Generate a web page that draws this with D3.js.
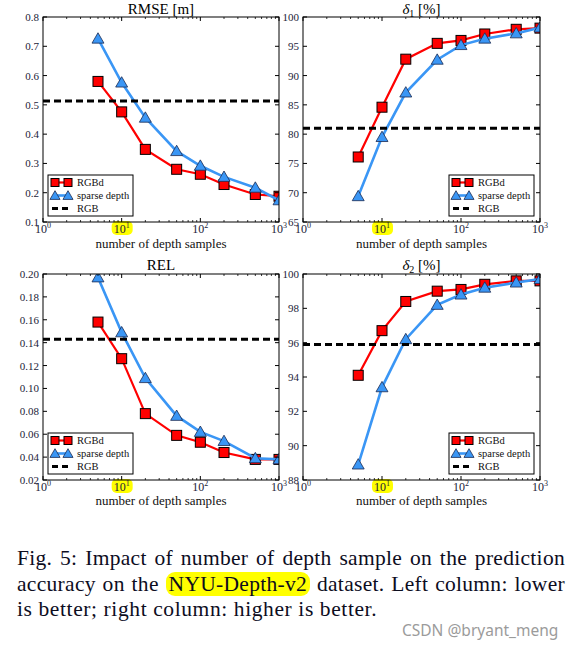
<!DOCTYPE html>
<html lang="en">
<head>
<meta charset="UTF-8">
<title>Impact of number of depth samples - NYU-Depth-v2</title>
<style>
  body { margin: 0; background: #fff; width: 574px; height: 645px; position: relative; overflow: hidden; }
  svg { position: absolute; left: 0; top: 0; }
  .ytick, .xtick { font-family: "Liberation Serif", serif; fill: #1c1c38; }
  .ytick { font-size: 11px; }
  .xtick { font-size: 12px; }
  .title { font-family: "Liberation Serif", serif; font-size: 15px; fill: #000; }
  .xlabel { font-family: "Liberation Serif", serif; font-size: 13px; fill: #111; }
  .legend-text { font-family: "Liberation Serif", serif; font-size: 10.5px; fill: #111; }
  #caption {
    position: absolute; left: 17px; top: 546px; width: 548px;
    font-family: "Liberation Serif", serif; font-size: 21.5px; letter-spacing: 0.3px;
    color: #0d0d1e;
  }
  #caption div { height: 25.7px; line-height: 25.7px; white-space: nowrap; }
  #caption .just { text-align: justify; text-align-last: justify; }
  #caption .last { letter-spacing: 0.6px; }
  .hl { background: #ffff00; border-radius: 9px; padding: 0 3px; }
  #mark {
    position: absolute; left: 402px; top: 619px;
    font-family: "Noto Sans", sans-serif; font-size: 15.5px; color: #9b9b9b;
  }
</style>
<script src="https://d3js.org/d3.v7.min.js"></script>
</head>
<body>
<div id="caption">
  <div class="just">Fig. 5: Impact of number of depth sample on the prediction</div>
  <div class="just">accuracy on the <span class="hl">NYU-Depth-v2</span> dataset. Left column: lower</div>
  <div class="last">is better; right column: higher is better.</div>
</div>
<div id="mark">CSDN @bryant_meng</div>
<script>
// number of depth samples (x)
const depthSamples = [5, 10, 20, 50, 100, 200, 500, 1000];

// RMSE [m]
const rmseRGBd   = [0.580, 0.476, 0.348, 0.280, 0.263, 0.228, 0.194, 0.188];
const rmseSparse = [0.726, 0.576, 0.456, 0.342, 0.292, 0.254, 0.217, 0.174];
const rmseRGB    = 0.513;

// delta1 [%]
const d1RGBd   = [76.1, 84.6, 92.8, 95.5, 96.0, 97.1, 97.9, 98.1];
const d1Sparse = [69.4, 79.5, 87.1, 92.7, 95.2, 96.3, 97.2, 98.2];
const d1RGB    = 81.0;

// REL
const relRGBd   = [0.158, 0.126, 0.078, 0.059, 0.053, 0.044, 0.038, 0.038];
const relSparse = [0.197, 0.149, 0.109, 0.076, 0.062, 0.054, 0.039, 0.038];
const relRGB    = 0.143;

// delta2 [%]
const d2RGBd   = [94.1, 96.7, 98.4, 99.0, 99.1, 99.4, 99.6, 99.6];
const d2Sparse = [88.9, 93.4, 96.2, 98.2, 98.8, 99.2, 99.5, 99.7];
const d2RGB    = 95.9;

// tick values
const rmseTicks = [0.1, 0.2, 0.3, 0.4, 0.5, 0.6, 0.7, 0.8];
const d1Ticks   = [65, 70, 75, 80, 85, 90, 95, 100];
const relTicks  = [0.02, 0.04, 0.06, 0.08, 0.10, 0.12, 0.14, 0.16, 0.18, 0.20];
const d2Ticks   = [88, 90, 92, 94, 96, 98, 100];
const xDecades  = [0, 1, 2, 3];

const seriesNames = ["RGBd", "sparse depth", "RGB"];
const red = "#ff0000", blue = "#3a96f5";

const panels = [
  { id: "rmse", title: [{t: "RMSE [m]"}], x0: 43, x1: 279, y0: 17, y1: 222, dom: [0.1, 0.8],
    ticks: rmseTicks, fmt: ".1f", rgbd: rmseRGBd, sparse: rmseSparse, rgb: rmseRGB, legend: "left", titleY: 14, labelY: 248 },
  { id: "d1", title: [{t: "δ", i: true}, {t: "1", sub: true}, {t: " [%]"}], x0: 303, x1: 540, y0: 17, y1: 222, dom: [65, 100],
    ticks: d1Ticks, fmt: "d", rgbd: d1RGBd, sparse: d1Sparse, rgb: d1RGB, legend: "right", titleY: 14, labelY: 248 },
  { id: "rel", title: [{t: "REL"}], x0: 43, x1: 279, y0: 274, y1: 480, dom: [0.02, 0.20],
    ticks: relTicks, fmt: ".2f", rgbd: relRGBd, sparse: relSparse, rgb: relRGB, legend: "left", titleY: 270, labelY: 505 },
  { id: "d2", title: [{t: "δ", i: true}, {t: "2", sub: true}, {t: " [%]"}], x0: 303, x1: 540, y0: 274, y1: 480, dom: [88, 100],
    ticks: d2Ticks, fmt: "d", rgbd: d2RGBd, sparse: d2Sparse, rgb: d2RGB, legend: "right", titleY: 270, labelY: 505 }
];

const svg = d3.select("body").append("svg")
  .attr("width", 574).attr("height", 645);

function drawSquare(g, cx, cy, s) {
  g.append("rect").attr("x", cx - s / 2).attr("y", cy - s / 2)
    .attr("width", s).attr("height", s)
    .attr("fill", red).attr("stroke", "#000").attr("stroke-width", 1);
}
function drawTriangle(g, cx, cy, area) {
  g.append("path").attr("d", d3.symbol(d3.symbolTriangle, area)())
    .attr("transform", `translate(${cx},${cy + 1})`)
    .attr("fill", blue).attr("stroke", "#1a2a50").attr("stroke-width", 0.8);
}

panels.forEach(p => {
  const g = svg.append("g");
  const x = d3.scaleLog().domain([1, 1000]).range([p.x0, p.x1]);
  const y = d3.scaleLinear().domain(p.dom).range([p.y1, p.y0]);

  // yellow marker behind the 10^1 label
  g.append("rect").attr("x", x(10) - 10).attr("y", p.y1 - 1)
    .attr("width", 21).attr("height", 14).attr("rx", 5)
    .attr("fill", "#ffff00");

  g.append("clipPath").attr("id", "clip-" + p.id)
    .append("rect").attr("x", p.x0).attr("y", p.y0)
    .attr("width", p.x1 - p.x0).attr("height", p.y1 - p.y0);

  const plot = g.append("g").attr("clip-path", `url(#clip-${p.id})`);
  const line = d3.line().x((d, i) => x(depthSamples[i])).y(d => y(d));

  // RGBd
  plot.append("path").datum(p.rgbd).attr("d", line)
    .attr("fill", "none").attr("stroke", red).attr("stroke-width", 2.2);
  p.rgbd.forEach((v, i) => drawSquare(plot, x(depthSamples[i]), y(v), 10));

  // sparse depth
  plot.append("path").datum(p.sparse).attr("d", line)
    .attr("fill", "none").attr("stroke", blue).attr("stroke-width", 2.6);
  p.sparse.forEach((v, i) => drawTriangle(plot, x(depthSamples[i]), y(v), 62));

  // RGB baseline
  plot.append("line").attr("x1", p.x0).attr("x2", p.x1)
    .attr("y1", y(p.rgb)).attr("y2", y(p.rgb))
    .attr("stroke", "#000").attr("stroke-width", 3).attr("stroke-dasharray", "7,4");

  // frame
  g.append("rect").attr("x", p.x0).attr("y", p.y0)
    .attr("width", p.x1 - p.x0).attr("height", p.y1 - p.y0)
    .attr("fill", "none").attr("stroke", "#000").attr("stroke-width", 1);

  // y ticks (inside, both sides)
  const fmt = d3.format(p.fmt);
  p.ticks.forEach(t => {
    const ty = y(t);
    g.append("line").attr("x1", p.x0).attr("x2", p.x0 + 4).attr("y1", ty).attr("y2", ty).attr("stroke", "#000");
    g.append("line").attr("x1", p.x1).attr("x2", p.x1 - 4).attr("y1", ty).attr("y2", ty).attr("stroke", "#000");
    g.append("text").attr("class", "ytick").attr("x", p.x0 - 4).attr("y", ty + 4)
      .attr("text-anchor", "end").text(fmt(t));
  });

  // x ticks (log, major + minor, top and bottom)
  xDecades.forEach(k => {
    const base = Math.pow(10, k);
    const mx = x(base);
    [[p.y1, -4], [p.y0, 4]].forEach(([yy, d]) => {
      g.append("line").attr("x1", mx).attr("x2", mx).attr("y1", yy).attr("y2", yy + d).attr("stroke", "#000");
    });
    const lbl = g.append("text").attr("class", "xtick").attr("x", mx).attr("y", p.y1 + 11)
      .attr("text-anchor", "middle");
    lbl.append("tspan").text("10");
    lbl.append("tspan").attr("dy", -5).attr("font-size", 8).text(k);
    if (k < 3) {
      for (let m = 2; m <= 9; m++) {
        const sx = x(m * base);
        [[p.y1, -2], [p.y0, 2]].forEach(([yy, d]) => {
          g.append("line").attr("x1", sx).attr("x2", sx).attr("y1", yy).attr("y2", yy + d)
            .attr("stroke", "#000").attr("stroke-width", 0.8);
        });
      }
    }
  });

  // title
  const tt = g.append("text").attr("class", "title")
    .attr("x", (p.x0 + p.x1) / 2).attr("y", p.titleY).attr("text-anchor", "middle");
  p.title.forEach(s => {
    const sp = tt.append("tspan").text(s.t);
    if (s.i) sp.attr("font-style", "italic");
    if (s.sub) sp.attr("font-size", 10).attr("dy", 3);
    else if (tt.selectAll("tspan").size() > 1) sp.attr("dy", p.title.some(q => q.sub) ? -3 : 0);
  });

  // x label
  g.append("text").attr("class", "xlabel")
    .attr("x", (p.x0 + p.x1) / 2).attr("y", p.labelY).attr("text-anchor", "middle")
    .text("number of depth samples");

  // legend
  const lw = 85, lh = 41;
  const lx = p.legend === "left" ? p.x0 + 5 : p.x1 - 6 - lw;
  const ly = p.y1 - 6 - lh;
  const lg = g.append("g");
  lg.append("rect").attr("x", lx).attr("y", ly).attr("width", lw).attr("height", lh)
    .attr("fill", "#fff").attr("stroke", "#000").attr("stroke-width", 1);
  const rows = [7.5, 20.5, 33.5];
  seriesNames.forEach((name, i) => {
    const ry = ly + rows[i];
    const a = lx + 7, b = lx + 20;
    if (i === 0) {
      lg.append("line").attr("x1", a).attr("x2", b).attr("y1", ry).attr("y2", ry).attr("stroke", red).attr("stroke-width", 2.2);
      drawSquare(lg, a, ry, 8);
      drawSquare(lg, b, ry, 8);
    } else if (i === 1) {
      lg.append("line").attr("x1", a).attr("x2", b).attr("y1", ry).attr("y2", ry).attr("stroke", blue).attr("stroke-width", 2.6);
      drawTriangle(lg, a, ry, 44);
      drawTriangle(lg, b, ry, 44);
    } else {
      lg.append("line").attr("x1", a - 3).attr("x2", b + 3).attr("y1", ry).attr("y2", ry)
        .attr("stroke", "#000").attr("stroke-width", 3).attr("stroke-dasharray", "6,4");
    }
    lg.append("text").attr("class", "legend-text").attr("x", lx + 29).attr("y", ry + 3.5).text(name);
  });
});
</script>
</body>
</html>
